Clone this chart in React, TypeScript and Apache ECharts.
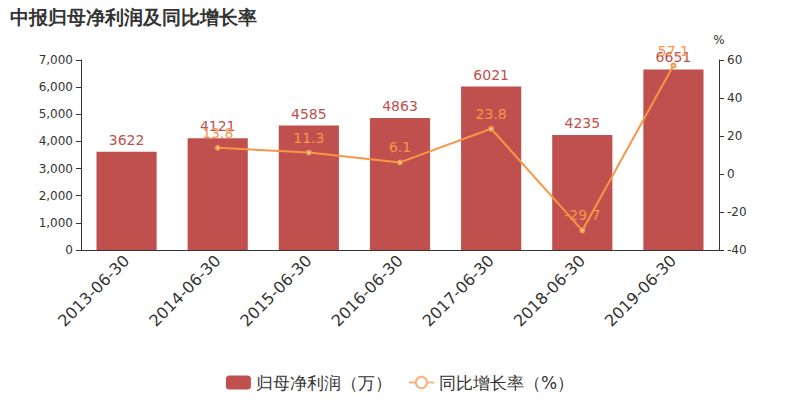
import React, { useEffect, useRef } from "react";
import * as echarts from "echarts";

const categories = ["2013-06-30", "2014-06-30", "2015-06-30", "2016-06-30", "2017-06-30", "2018-06-30", "2019-06-30"];
const profit = [3622, 4121, 4585, 4863, 6021, 4235, 6651];
const growth: (number | null)[] = [null, 13.8, 11.3, 6.1, 23.8, -29.7, 57.1];
const leftTicks = { min: 0, max: 7000, interval: 1000 };
const rightTicks = { min: -40, max: 60, interval: 20 };

export default function App() {
  const ref = useRef<HTMLDivElement>(null);
  useEffect(() => {
    const chart = echarts.init(ref.current!, undefined, { renderer: "svg" });
    const font = "DejaVu Sans";
    chart.setOption({
      animation: false,
      textStyle: { fontFamily: font },
      title: {
        text: "中报归母净利润及同比增长率",
        left: 5,
        top: 2,
        textStyle: { fontSize: 19, fontWeight: "bold", color: "#333", fontFamily: font },
      },
      legend: {
        bottom: 4,
        left: "center",
        itemWidth: 25,
        itemHeight: 14,
        itemGap: 16,
        textStyle: { fontSize: 17, color: "#333", fontFamily: font },
        data: [
          { name: "归母净利润（万）", icon: "roundRect" },
          {
            name: "同比增长率（%）",
            itemStyle: { color: "#fab27a" },
            lineStyle: { color: "#fab27a", width: 2 },
          },
        ],
      },
      grid: { left: 81, right: 81, top: 60, bottom: 150 },
      xAxis: {
        type: "category",
        data: categories,
        axisLine: { lineStyle: { color: "#333" } },
        axisTick: { alignWithLabel: false },
        axisLabel: { rotate: 45, fontSize: 16, color: "#333", interval: 0, margin: 8 },
      },
      yAxis: [
        {
          type: "value",
          ...leftTicks,
          splitLine: { show: false },
          axisLine: { show: true, lineStyle: { color: "#333" } },
          axisTick: { show: true },
          axisLabel: { fontSize: 12, color: "#333", formatter: (v: number) => v.toLocaleString("en-US") },
        },
        {
          type: "value",
          ...rightTicks,
          name: "%",
          nameGap: 14,
          nameTextStyle: { fontSize: 12, color: "#333", align: "center" },
          splitLine: { show: false },
          axisLine: { show: true, lineStyle: { color: "#333" } },
          axisTick: { show: true },
          axisLabel: { fontSize: 12, color: "#333" },
        },
      ],
      series: [
        {
          name: "归母净利润（万）",
          type: "bar",
          data: profit,
          barWidth: "66%",
          itemStyle: { color: "#c0504d" },
          label: { show: true, position: "top", fontSize: 14, color: "#c0504d" },
        },
        {
          name: "同比增长率（%）",
          type: "line",
          yAxisIndex: 1,
          data: growth,
          symbol: "emptyCircle",
          symbolSize: 4,
          lineStyle: { color: "#f79646", width: 2 },
          itemStyle: { color: "#f79646" },
          label: { show: true, position: "top", fontSize: 14, color: "#f79646" },
        },
      ],
    });
    return () => chart.dispose();
  }, []);
  return <div ref={ref} style={{ width: 800, height: 400, position: "absolute", left: 0, top: 0 }} />;
}
